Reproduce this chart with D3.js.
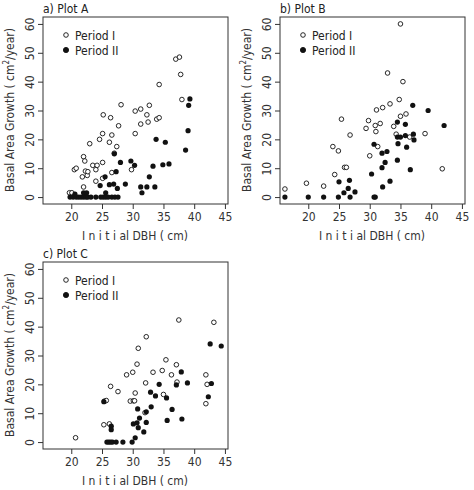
<!DOCTYPE html>
<html><head><meta charset="utf-8">
<script src="https://cdn.jsdelivr.net/npm/d3@7"></script>
<style>body{margin:0;background:#fff}text{font-family:"DejaVu Sans Condensed","DejaVu Sans",sans-serif}</style>
</head><body>
<script>
// [DBH, growth]
const plotA1 = [[19.7,1.5],[20.1,1.5],[20.5,9.5],[20.8,10],[21.8,7],[22,14],[22.2,12.5],[22,3.5],[22.3,9],[22.6,7.5],[22.7,8.8],[23,18.5],[23.5,11],[24,5.5],[24.2,11],[24,9.5],[24.6,20],[25.1,22],[25.1,12],[25.2,28.5],[25.1,6.5],[26.2,19],[26.4,27.5],[26.6,21.5],[26.6,8.5],[27,15.2],[27.4,17.5],[27.7,24.7],[28.1,32],[29.8,9.5],[30.4,29.8],[30.4,22],[31.3,30.5],[31.3,25.3],[32.3,28.5],[32.5,26],[32.7,31.8],[33.9,27],[34.3,27.5],[34.3,39],[37,47.8],[37.6,48.5],[37.8,42.5],[38,33.8]]
const plotA2 = [[19.8,0],[20.3,0],[20.8,0],[21.2,0],[21.6,0],[22,0],[22.4,0],[22.7,0],[23.2,0],[24,0],[24.8,0],[25.2,0],[25.6,0],[26,0],[26.6,0],[27.1,0],[27.6,0],[20.6,1],[22,1.5],[22.5,1.5],[24.7,4],[25.5,7],[25.6,1.5],[26.2,4.3],[26.9,4.5],[27,15],[27.3,8.8],[27.5,3],[28,12],[28.8,4.5],[29.7,12.5],[30.3,11],[31.3,3.5],[31.5,1.5],[32.3,3.5],[32.7,7],[33.3,10.7],[33.6,3.5],[33.8,20],[34.9,11.2],[35.3,19],[35.9,11.5],[38.6,16.3],[39,23],[39.1,31.8],[39.3,34]]
const plotB1 = [[16.2,2.8],[19.7,4.8],[22.5,3.8],[24,17.5],[24.3,7.8],[24.9,16],[25.4,27],[25.9,10.3],[26.2,10.3],[26.8,21.5],[29.4,23.8],[29.8,26.5],[30,14.3],[30.9,24.8],[31,22.7],[31.1,30.2],[31.3,17.5],[31.7,25.5],[32.1,31],[32.9,43],[33.3,32.3],[33.9,24.5],[34.3,21.8],[34.8,33.8],[35,28],[35,60],[35.4,40],[35.9,28.8],[36.5,20.8],[39,22],[41.8,9.8]]
const plotB2 = [[16.2,0],[20,0],[22.5,0],[25,5.3],[24.9,0],[25.8,1.5],[26.5,3],[26.7,5.8],[26.8,0],[27.6,1.8],[30.3,8],[30.7,18.3],[30.7,0],[30.9,0],[32,15.2],[32,10.2],[32.1,3.5],[32.5,12],[32.8,15.8],[33.3,5.5],[34.5,26],[34.5,20.8],[34.5,12.8],[34.6,18.5],[35,20.8],[35.8,25.2],[35.8,21.3],[36,17.3],[36.6,9.5],[37,31.8],[37.1,21.8],[37.2,19.8],[39.5,30],[42.1,24.8]]
const plotC1 = [[20.7,1.5],[25.3,6],[25.4,14.2],[25.7,14.4],[26.2,6.3],[26.4,19.3],[27.6,17.5],[29,23.3],[29.6,14.2],[30,24.2],[30.1,14.3],[30.3,14.3],[30.4,17],[30.7,27],[30.9,32.5],[32,10.2],[32.1,20.5],[32.2,36.5],[33.3,24.2],[34.8,24.8],[35,16.5],[35.4,28.5],[36.3,23.3],[37.1,26.8],[37.2,20.8],[37.5,42.3],[41.9,23.3],[41.9,13.3],[42.1,20],[43.2,41.5]]
const plotC2 = [[25.3,14],[25.8,0],[26.1,0],[26.4,0],[26.5,5.5],[26.5,4.3],[26.7,0],[27.3,0],[28.4,0],[29.9,0],[30.1,6.3],[30.4,1.5],[30.7,6.7],[30.8,11.5],[30.9,5],[31.1,8.3],[31.8,3.5],[32.2,6.8],[32.2,10.5],[32.9,17.3],[33,12.2],[33.7,16],[34.3,20],[35.5,15.3],[35.6,7.5],[36.4,11.3],[37.1,19.8],[37.9,24.3],[38,8],[38.9,20.5],[42.3,15.7],[42.6,34],[42.8,20.3],[44.4,33.3]]

const titles = ["a)  Plot  A", "b)  Plot  B", "c)  Plot  C"]
const seriesNames = ["Period I", "Period II"]
const xTicks = [20, 25, 30, 35, 40, 45]
const yTicks = [0, 10, 20, 30, 40, 50, 60]

const panels = [
  {title: titles[0], p1: plotA1, p2: plotA2, ox: 0, oy: 0},
  {title: titles[1], p1: plotB1, p2: plotB2, ox: 237, oy: 0},
  {title: titles[2], p1: plotC1, p2: plotC2, ox: 0, oy: 245}
]

const svg = d3.select("body").append("svg").attr("width", 474).attr("height", 490)

const x = d3.scaleLinear().domain([15.4, 45.5]).range([43, 228])
const y = d3.scaleLinear().domain([-2.4, 62.4]).range([204, 17])

panels.forEach(p => {
  const g = svg.append("g").attr("transform", "translate(" + p.ox + "," + p.oy + ")")

  g.append("rect").attr("x", 43).attr("y", 17).attr("width", 185).attr("height", 187)
    .attr("fill", "none").attr("stroke", "#333")

  const xa = g.append("g").attr("transform", "translate(0,204)")
    .call(d3.axisBottom(x).tickValues(xTicks).tickSize(5).tickPadding(3))
  const ya = g.append("g").attr("transform", "translate(43,0)")
    .call(d3.axisLeft(y).tickValues(yTicks).tickSize(5))
  ;[xa, ya].forEach(a => {
    a.select(".domain").remove()
    a.selectAll("line").attr("stroke", "#333")
    a.selectAll("text").attr("font-size", 12).attr("fill", "#333")
  })
  // rotated tick labels, as in R's default las=0
  ya.selectAll("text").attr("x", 0).attr("dy", 0).attr("text-anchor", "middle")
    .attr("transform", "translate(-9,0) rotate(-90)")

  g.append("text").attr("x", 43).attr("y", 13).attr("font-size", 12).attr("fill", "#222").text(p.title)
  g.append("text").attr("x", 135).attr("y", 240).attr("text-anchor", "middle")
    .attr("font-size", 12).attr("fill", "#333").text("I n i t i al  DBH ( cm)")
  g.append("text").attr("transform", "translate(14,110) rotate(-90)").attr("text-anchor", "middle")
    .attr("font-size", 12).attr("fill", "#333").html("Basal  Area  Growth  ( cm<tspan dy='-5' font-size='8'>2</tspan><tspan dy='5'>/year)</tspan>")

  g.selectAll(".o").data(p.p1).enter().append("circle")
    .attr("cx", d => x(d[0])).attr("cy", d => y(d[1])).attr("r", 2.3)
    .attr("fill", "#fff").attr("stroke", "#111").attr("stroke-width", 0.9)
  g.selectAll(".f").data(p.p2).enter().append("circle")
    .attr("cx", d => x(d[0])).attr("cy", d => y(d[1])).attr("r", 2.6)
    .attr("fill", "#111")

  // legend
  seriesNames.forEach((s, i) => {
    const ly = 35 + i * 15
    g.append("circle").attr("cx", 66).attr("cy", ly).attr("r", i ? 2.6 : 2.3)
      .attr("fill", i ? "#111" : "#fff").attr("stroke", "#111").attr("stroke-width", 0.9)
    g.append("text").attr("x", 75).attr("y", ly + 4.5).attr("font-size", 12).attr("fill", "#222").text(s)
  })
})
</script>
</body></html>
